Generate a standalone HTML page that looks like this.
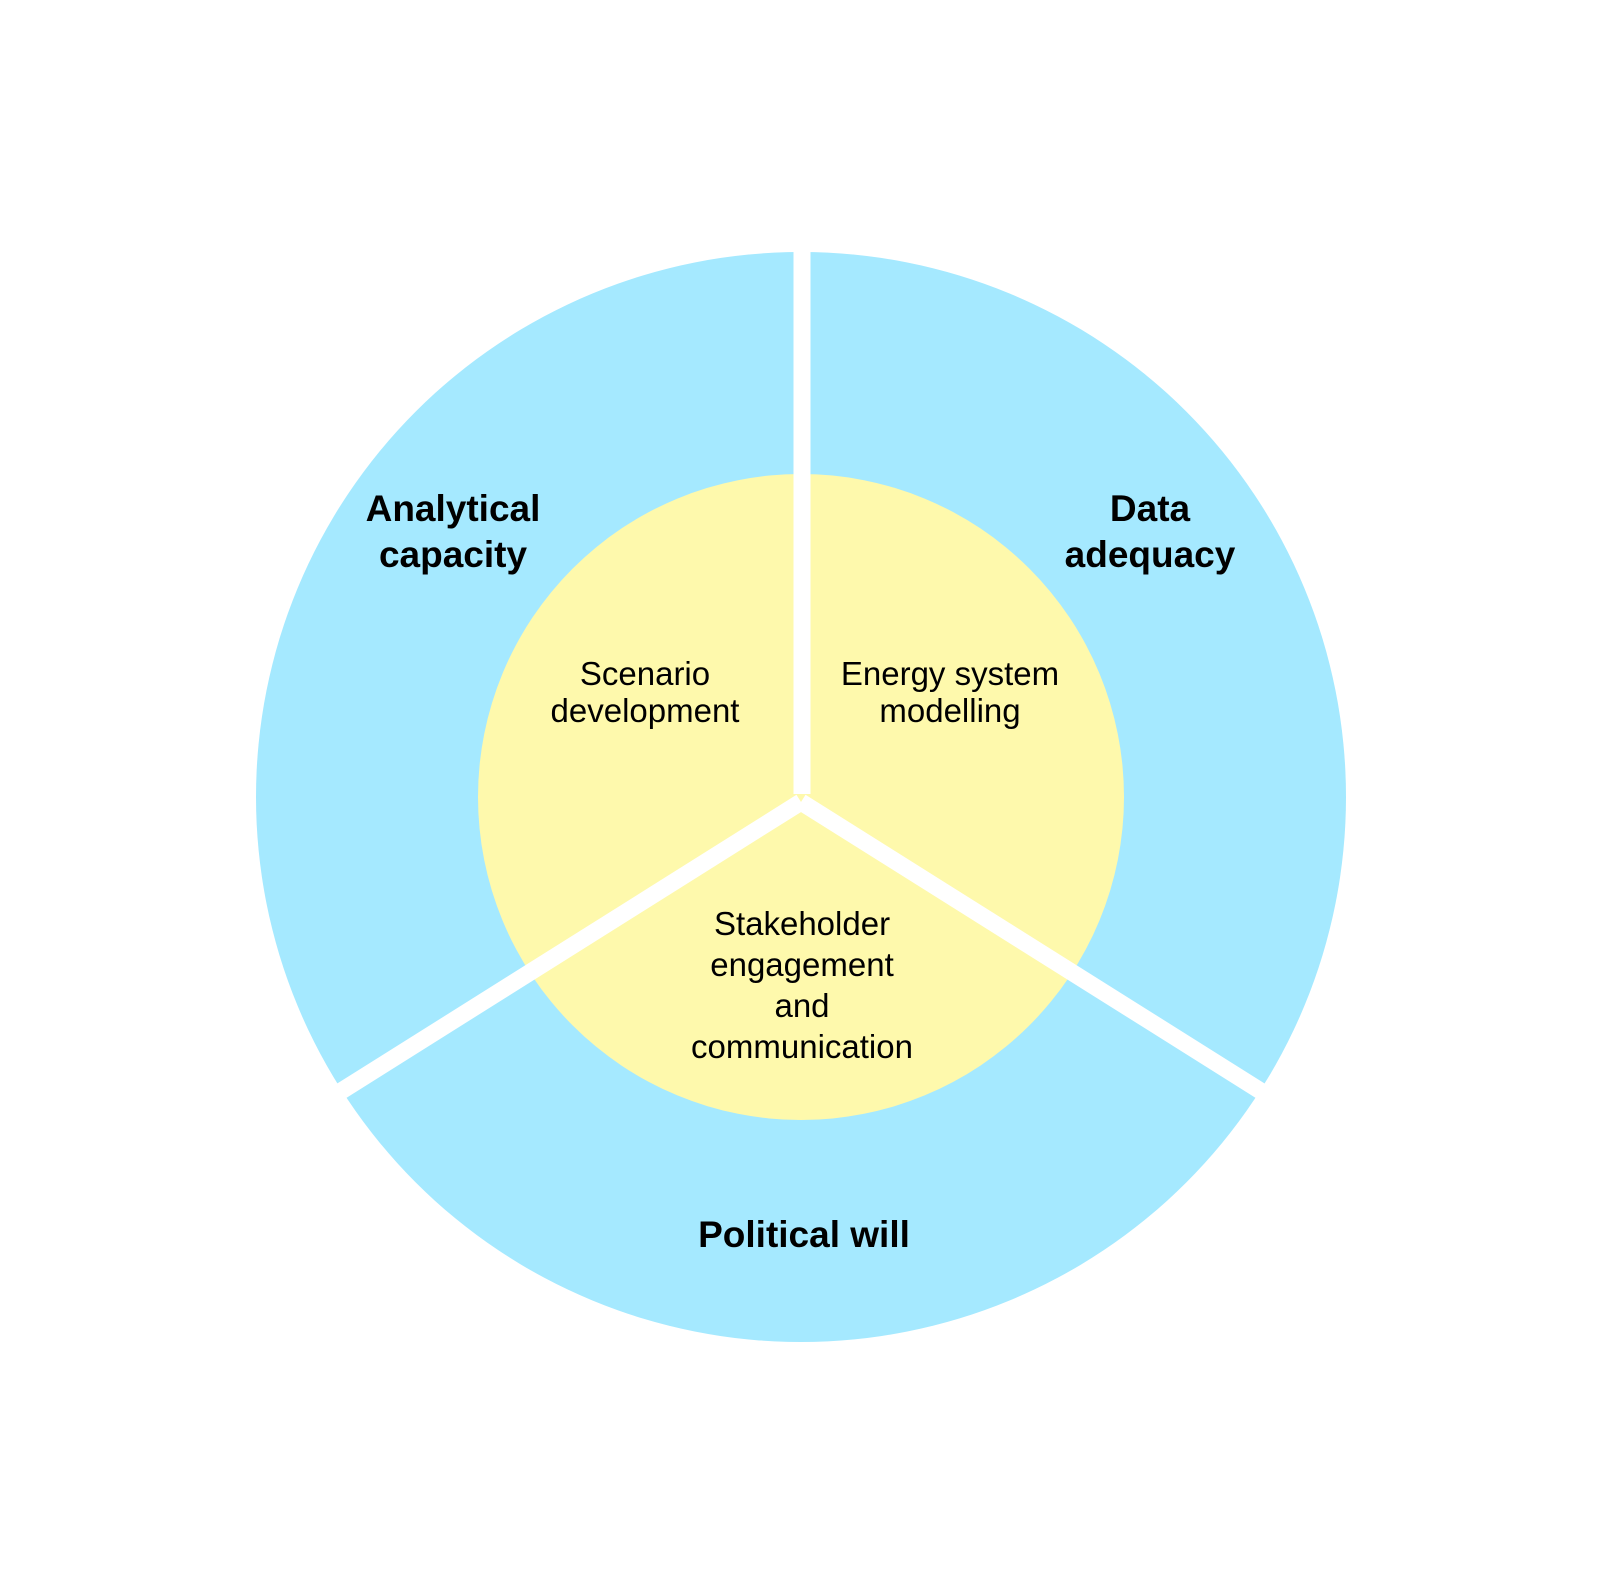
<!DOCTYPE html>
<html><head><meta charset="utf-8"><style>html,body{margin:0;padding:0;background:#fff}svg{display:block}</style></head>
<body>
<svg width="1600" height="1594" viewBox="0 0 1600 1594" xmlns="http://www.w3.org/2000/svg">
<circle cx="801" cy="797" r="545" fill="#a5e9ff"/>
<circle cx="801" cy="797" r="323" fill="#fef9ac"/>
<g stroke="#fff" stroke-width="17" fill="none">
<line x1="802" y1="794" x2="802" y2="240"/>
<line x1="801" y1="802" x2="1275" y2="1100"/>
<line x1="801" y1="802" x2="327" y2="1100"/>
</g>
<g font-family="Liberation Sans, Arial, sans-serif" font-weight="bold" font-size="37" text-anchor="middle" fill="#000">
<text x="453" y="521">Analytical</text>
<text x="453" y="567">capacity</text>
<text x="1150" y="521">Data</text>
<text x="1150" y="567">adequacy</text>
<text x="804" y="1247">Political will</text>
</g>
<g font-family="Liberation Sans, Arial, sans-serif" font-size="33" text-anchor="middle" fill="#000">
<text x="645" y="685">Scenario</text>
<text x="645" y="722">development</text>
<text x="950" y="685">Energy system</text>
<text x="950" y="722">modelling</text>
<text x="802" y="935">Stakeholder</text>
<text x="802" y="976">engagement</text>
<text x="802" y="1017">and</text>
<text x="802" y="1058">communication</text>
</g>
</svg>
</body></html>
